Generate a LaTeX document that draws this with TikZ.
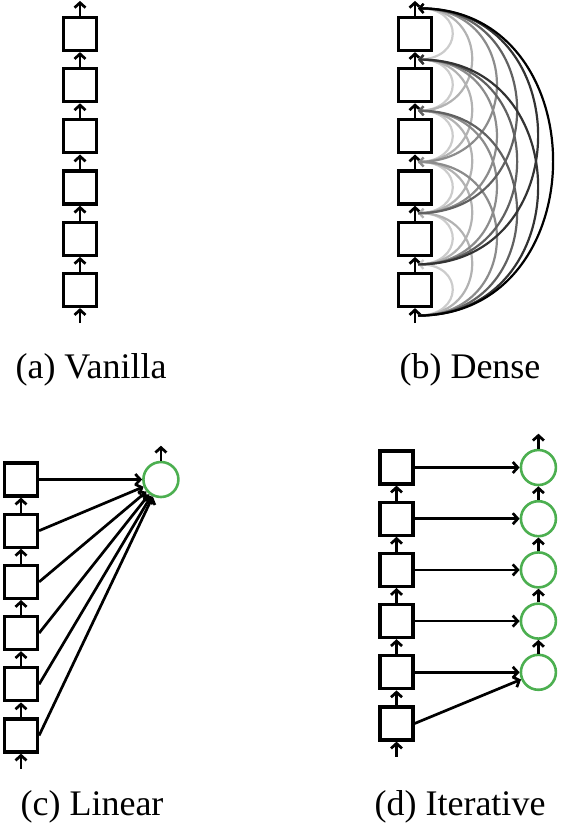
\documentclass[tikz,border=0pt]{standalone}
\usepackage{fontspec}
\setmainfont{Liberation Serif}[Ligatures=TeX]
\usetikzlibrary{positioning, arrows.meta, calc}
\tikzstyle{layerbox} =[draw, line width=3.2pt, minimum size=33pt, inner sep=0pt]
\tikzstyle{mixnode} =[draw=mixGreen, circle, line width=2.6pt, minimum size=35pt, inner sep=0pt]
\tikzstyle{flow} =[-{Straight Barb[length=5pt, width=11pt]}, line width=2.7pt, black]
\tikzstyle{skipflow} =[-{Straight Barb[length=4pt, width=9pt]}, line width=2.2pt]
\tikzstyle{caplabel} =[anchor=base, font=\rmfamily\fontsize{36}{40}\selectfont]
\definecolor{mixGreen}{HTML}{4CAF50}

\begin{document}
\begin{tikzpicture}[x=1pt, y=1pt]
\useasboundingbox (0,0) rectangle (561,-826);

% (a) vanilla
\node (va1) [layerbox] at (80,-290) {};
\node (va2) [layerbox, above=15pt of va1] {};
\node (va3) [layerbox, above=15pt of va2] {};
\node (va4) [layerbox, above=15pt of va3] {};
\node (va5) [layerbox, above=15pt of va4] {};
\node (va6) [layerbox, above=15pt of va5] {};
\coordinate [below=15pt of va1] (vaIn);
\coordinate [above=15pt of va6] (vaOut);

\path[flow]
	(vaIn) edge (va1) (va1) edge (va2) (va2) edge (va3)
	(va3) edge (va4) (va4) edge (va5) (va5) edge (va6) (va6) edge (vaOut);

\node (capA) [caplabel] at (91,-378) {(a) Vanilla};

% (b) dense
\node (db1) [layerbox] at (415,-290) {};
\node (db2) [layerbox, above=15pt of db1] {};
\node (db3) [layerbox, above=15pt of db2] {};
\node (db4) [layerbox, above=15pt of db3] {};
\node (db5) [layerbox, above=15pt of db4] {};
\node (db6) [layerbox, above=15pt of db5] {};
\coordinate [below=15pt of db1] (dbIn);
\coordinate [above=15pt of db6] (dbOut);

\path[flow]
	(dbIn) edge (db1) (db1) edge (db2) (db2) edge (db3)
	(db3) edge (db4) (db4) edge (db5) (db5) edge (db6) (db6) edge (dbOut);

\coordinate (d0) at ($(dbIn)!0.5!(db1.south)+(3pt,0)$);
\coordinate (d1) at ($(db1.north)!0.5!(db2.south)+(3pt,0)$);
\coordinate (d2) at ($(db2.north)!0.5!(db3.south)+(3pt,0)$);
\coordinate (d3) at ($(db3.north)!0.5!(db4.south)+(3pt,0)$);
\coordinate (d4) at ($(db4.north)!0.5!(db5.south)+(3pt,0)$);
\coordinate (d5) at ($(db5.north)!0.5!(db6.south)+(3pt,0)$);
\coordinate (d6) at ($(db6.north)!0.5!(dbOut)+(3pt,0)$);

\foreach \hops in {1,...,6}{
	\pgfmathtruncatemacro{\shade}{{20,30,45,62,80,100}[\hops-1]}
	\pgfmathsetmacro{\loose}{{2.3,1.8,1.75,1.65,1.6,1.5}[\hops-1]}
	\pgfmathtruncatemacro{\last}{6-\hops}
	\foreach \i in {0,...,\last}{
		\pgfmathtruncatemacro{\j}{\i+\hops}
		\draw[skipflow, black!\shade] (d\i) to[out=0, in=0, looseness=\loose] (d\j);
	}
}

\node (capB) [caplabel] at (470,-378) {(b) Dense};

% (c) linear
\node (lb1) [layerbox] at (21,-735.5) {};
\node (lb2) [layerbox, above=15pt of lb1] {};
\node (lb3) [layerbox, above=15pt of lb2] {};
\node (lb4) [layerbox, above=15pt of lb3] {};
\node (lb5) [layerbox, above=15pt of lb4] {};
\node (lb6) [layerbox, above=15pt of lb5] {};
\node (lc) [mixnode, right=103pt of lb6] {};
\coordinate [below=15pt of lb1] (lbIn);
\coordinate [above=15pt of lc] (lcOut);

\path[flow]
	(lbIn) edge (lb1) (lb1) edge (lb2) (lb2) edge (lb3)
	(lb3) edge (lb4) (lb4) edge (lb5) (lb5) edge (lb6) (lc) edge (lcOut);

\path[flow]
	(lb1.east) edge (lc) (lb2.east) edge (lc) (lb3.east) edge (lc)
	(lb4.east) edge (lc) (lb5.east) edge (lc) (lb6.east) edge (lc);

\node (capC) [caplabel] at (92,-815) {(c) Linear};

% (d) iterative
\node (ib1) [layerbox] at (396.5,-723.5) {};
\node (ib2) [layerbox, above=15pt of ib1] {};
\node (ib3) [layerbox, above=15pt of ib2] {};
\node (ib4) [layerbox, above=15pt of ib3] {};
\node (ib5) [layerbox, above=15pt of ib4] {};
\node (ib6) [layerbox, above=15pt of ib5] {};
\node (ic2) [mixnode, right=105pt of ib2] {};
\node (ic3) [mixnode, right=105pt of ib3] {};
\node (ic4) [mixnode, right=105pt of ib4] {};
\node (ic5) [mixnode, right=105pt of ib5] {};
\node (ic6) [mixnode, right=105pt of ib6] {};
\coordinate [below=15pt of ib1] (ibIn);
\coordinate [above=15pt of ic6] (icOut);

\path[flow]
	(ibIn) edge (ib1) (ib1) edge (ib2) (ib2) edge (ib3)
	(ib3) edge (ib4) (ib4) edge (ib5) (ib5) edge (ib6);

\path[flow]
	(ib1.east) edge (ic2) (ib2.east) edge (ic2) (ib3.east) edge (ic3)
	(ib4.east) edge (ic4) (ib5.east) edge (ic5) (ib6.east) edge (ic6);

\path[flow]
	(ic2) edge (ic3) (ic3) edge (ic4) (ic4) edge (ic5) (ic5) edge (ic6) (ic6) edge (icOut);

\node (capD) [caplabel] at (460,-815) {(d) Iterative};
\end{tikzpicture}
\end{document}
